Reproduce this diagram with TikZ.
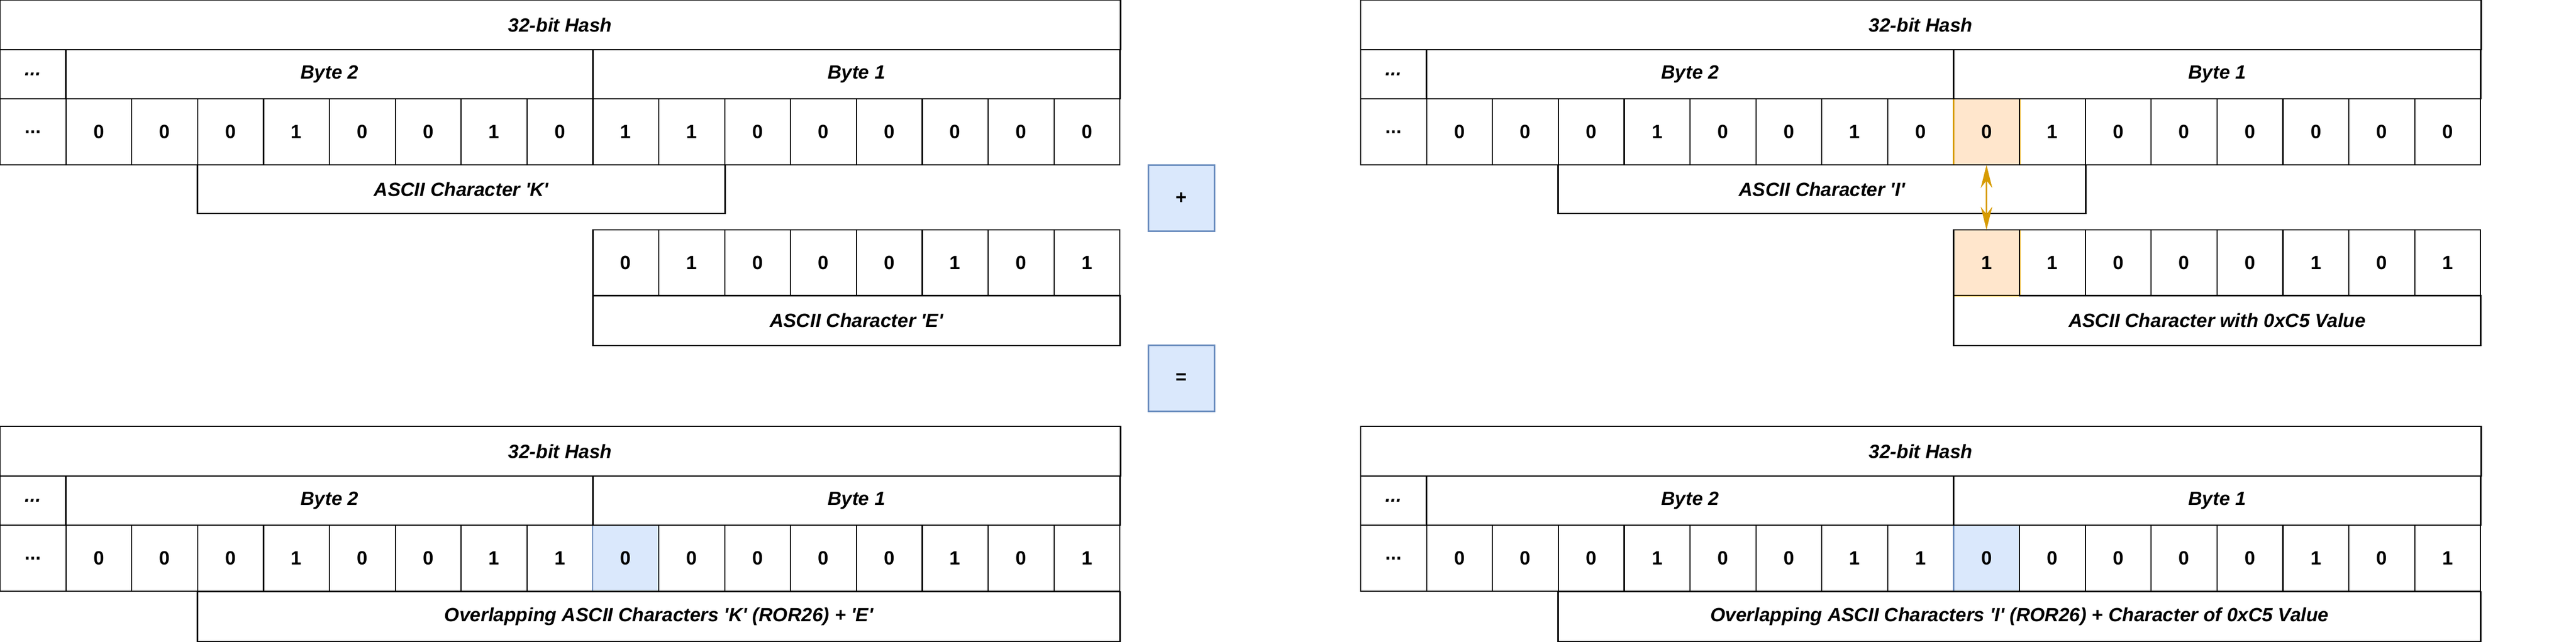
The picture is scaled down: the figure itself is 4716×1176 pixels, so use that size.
\documentclass[tikz,border=0pt]{standalone}
\usepackage{fontspec}
\setmainfont{Liberation Sans}
\usetikzlibrary{arrows.meta}
\definecolor{opfill}{HTML}{DAE8FC}
\definecolor{opline}{HTML}{6C8EBF}
\definecolor{hlfill}{HTML}{FFE6CC}
\definecolor{hlline}{HTML}{D79B00}
\newcommand{\q}{\textquotesingle}
\tikzset{
  box/.style={draw, thick, inner sep=0pt, outer sep=0pt, anchor=north west,
    font=\fontsize{10}{12}\selectfont\bfseries\itshape},
  bit/.style={draw, line width=0.6pt, inner sep=0pt, outer sep=0pt, anchor=north west,
    minimum width=1.206cm, minimum height=1.21cm, font=\fontsize{10}{12}\selectfont\bfseries},
  opbox/.style={draw=opline, fill=opfill, thick, inner sep=0pt, minimum width=1.21cm,
    minimum height=1.21cm, anchor=north west, font=\fontsize{10}{12}\selectfont\bfseries},
  mark blue/.style={fill=opfill, draw=opline},
  mark orange/.style={fill=hlfill, draw=hlline, thick},
}
% one 32-bit hash table: name, x, y, bits
\newcommand{\hashtable}[4]{%
  \node[box, minimum width=20.5cm, minimum height=0.91cm] (#1-hash) at (#2,#3) {32-bit Hash};
  \node[box, minimum width=1.206cm, minimum height=0.9cm] (#1-dots) at (#2,#3+91) {...};
  \node[box, minimum width=9.648cm, minimum height=0.9cm] (#1-byte2) at (#2+120.6,#3+91) {Byte 2};
  \node[box, minimum width=9.648cm, minimum height=0.9cm] (#1-byte1) at (#2+1085.4,#3+91) {Byte 1};
  \node[bit] (#1-b0) at (#2,#3+181) {...};
  \foreach \v/\s [count=\i] in {#4}
    \node[bit, \s] (#1-b\i) at (#2+\i*120.6,#3+181) {\v};
  \draw[thick] (#2,#3+181) rectangle (#2+2050,#3+302);
}
\begin{document}
\begin{tikzpicture}[x=0.01cm, y=-0.01cm]
\useasboundingbox (0,0) rectangle (4716,1176);

% left: 'K' and 'E'
\hashtable{lt}{0}{0}{0/,0/,0/,1/,0/,0/,1/,0/,1/,1/,0/,0/,0/,0/,0/,0/}
\node[box, minimum width=9.648cm, minimum height=0.89cm] (lt-chr) at (361.8,302) {ASCII Character \q K\q};
\foreach \v [count=\i] in {0,1,0,0,0,1,0,1}
  \node[bit] (le-b\i) at (964.8+\i*120.6,421) {\v};
\draw[thick] (1085.4,421) rectangle (2050,541);
\node[box, minimum width=9.646cm, minimum height=0.92cm] (le-chr) at (1085.4,541) {ASCII Character \q E\q};

% left: sum
\hashtable{lb}{0}{781}{0/,0/,0/,1/,0/,0/,1/,1/,0/mark blue,0/,0/,0/,0/,1/,0/,1/}
\node[box, minimum width=16.88cm, minimum height=0.91cm] (lb-chr) at (361.8,1084) {Overlapping ASCII Characters \q K\q{} (ROR26) + \q E\q};

% operators
\node[opbox] (plus) at (2101,301) {+};
\node[opbox] (equals) at (2101,631) {=};

% right: 'I' and 0xC5
\hashtable{rt}{2491}{0}{0/,0/,0/,1/,0/,0/,1/,0/,0/mark orange,1/,0/,0/,0/,0/,0/,0/}
\node[box, minimum width=9.648cm, minimum height=0.89cm] (rt-chr) at (2852.8,302) {ASCII Character \q I\q};
\foreach \v/\s [count=\i] in {1/mark orange,1/,0/,0/,0/,1/,0/,1/}
  \node[bit, \s] (rc-b\i) at (3455.8+\i*120.6,421) {\v};
\draw[thick] (3576.4,421) rectangle (4541,541);
\node[box, minimum width=9.646cm, minimum height=0.92cm] (rc-chr) at (3576.4,541) {ASCII Character with 0xC5 Value};
\draw[hlline, thick, {Stealth[length=12pt,width=6pt]}-{Stealth[length=12pt,width=6pt]}] (rt-b9.south) -- (rc-b1.north);

% right: sum
\hashtable{rb}{2491}{781}{0/,0/,0/,1/,0/,0/,1/,1/,0/mark blue,0/,0/,0/,0/,1/,0/,1/}
\node[box, minimum width=16.88cm, minimum height=0.91cm] (rb-chr) at (2852.8,1084) {Overlapping ASCII Characters \q I\q{} (ROR26) + Character of 0xC5 Value};
\end{tikzpicture}
\end{document}
